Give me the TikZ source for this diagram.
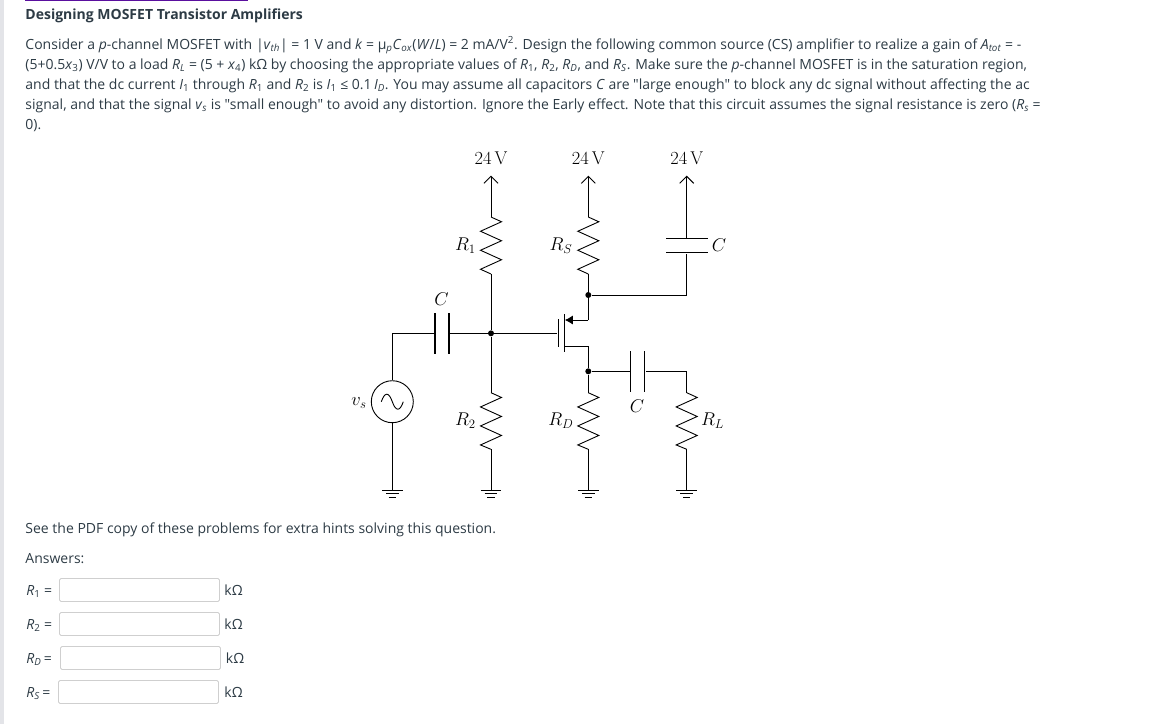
\documentclass[tikz,border=0pt]{standalone}
\usepackage{fontspec}
\usetikzlibrary{arrows.meta}
\newfontfamily\opensans{Open Sans}
\newcommand{\Sub}[2]{\textit{#1}\textsubscript{\textit{#2}}}
\newcommand{\Num}[2]{\textit{#1}\textsubscript{#2}}
\newcommand{\Lbl}[1]{\scalebox{1.07}{#1}}
\definecolor{bodygray}{HTML}{2D3B45}
\definecolor{sidegray}{HTML}{E3E4E8}
\definecolor{topbar}{HTML}{5A0F9E}
\definecolor{boxgray}{HTML}{CFCFCF}
\tikzset{
  para/.style={font=\opensans\fontsize{14}{17}\selectfont, text=bodygray, anchor=base west, inner sep=0},
  answer/.style={draw=boxgray, rounded corners=1.5pt, line width=0.9pt, minimum width=160pt, minimum height=23pt, inner sep=0},
  lbl/.style={font=\fontsize{17.28}{20}\selectfont, inner sep=0},
  dot/.style={circle, fill, inner sep=0, minimum size=6pt},
  plate/.style 2 args={fill, inner sep=0, minimum width=#1, minimum height=#2},
  res/.style={to path={-- ++(10.5,4.75) -- ++(-21,9.5) -- ++(21,9.5) -- ++(-21,9.5) -- ++(21,9.5) -- ++(-21,9.5) -- (\tikztotarget)}},
  gnd/.pic={
    \draw (-10.3,0) -- (10.3,0);
    \draw (-6.3,3.8) -- (6.3,3.8);
    \draw (-3.6,7.6) -- (3.6,7.6);
  }
}

\begin{document}
\begin{tikzpicture}[x=1pt,y=-1pt,line width=0.9pt,>={Straight Barb[length=7pt,width=14pt]}]
  \useasboundingbox (0,0) rectangle (1164,724);
  \fill[sidegray] (0,0) rectangle (4,724);
  \fill[topbar] (25,0) rectangle (247.6,1.2);

  % text
  \node[para, font=\opensans\bfseries\fontsize{14}{17}\selectfont] (title) at (25,19) {Designing MOSFET Transistor Amplifiers};
  \node[para] (L1) at (25,49)  {Consider a \textit{p}-channel MOSFET with \textit{|v}\textsubscript{\textit{th}}| = 1 V and \textit{k} = µ\textsubscript{\textit{p}}\Sub{C}{ox}(\textit{W}/\textit{L}) = 2 mA/V\textsuperscript{2}. Design the following common source (CS) amplifier to realize a gain of \Sub{A}{tot} = -};
  \node[para] (L2) at (25,69)  {(5+0.5\Num{x}{3}) V/V to a load \Sub{R}{L} = (5 + \Num{x}{4}) kΩ by choosing the appropriate values of \Num{R}{1}, \Num{R}{2}, \Sub{R}{D}, and \Sub{R}{S}. Make sure the \textit{p}-channel MOSFET is in the saturation region,};
  \node[para] (L3) at (25,89)  {and that the dc current \Num{I}{1} through \Num{R}{1} and \Num{R}{2} is \Num{I}{1} ≤ 0.1\,\Sub{I}{D}. You may assume all capacitors \textit{C} are "large enough" to block any dc signal without affecting the ac};
  \node[para] (L4) at (25,109) {signal, and that the signal \Sub{v}{s} is "small enough" to avoid any distortion. Ignore the Early effect. Note that this circuit assumes the signal resistance is zero (\Sub{R}{s} =};
  \node[para] (L5) at (25,129) {0).};
  \node[para] (hint) at (25,533) {See the PDF copy of these problems for extra hints solving this question.};
  \node[para] (ans) at (25,563) {Answers:};

  % answers
  \node[answer] (B1) at (139.5,590) {};
  \node[answer] (B2) at (139.5,624) {};
  \node[answer] (BD) at (140.5,658) {};
  \node[answer] (BS) at (138.5,692) {};
  \node[para] (N1) at (26,595) {\Num{R}{1} =};
  \node[para] (N2) at (26,629) {\Num{R}{2} =};
  \node[para] (ND) at (26,663) {\Sub{R}{D}\,=};
  \node[para] (NS) at (26,697) {\Sub{R}{S}\,=};
  \node[para] (U1) at (224,595) {kΩ};
  \node[para] (U2) at (224,629) {kΩ};
  \node[para] (UD) at (225.5,663) {kΩ};
  \node[para] (US) at (224,697) {kΩ};

  % supplies
  \node[lbl] (V1) at (491,158)   {\Lbl{24\,V}};
  \node[lbl] (V2) at (588.3,158) {\Lbl{24\,V}};
  \node[lbl] (V3) at (686.7,158) {\Lbl{24\,V}};
  \coordinate (T1) at (491,175.7);
  \coordinate (T2) at (588.3,175.7);
  \coordinate (T3) at (686.7,175.7);

  % resistor ends
  \coordinate (R1a) at (491,217);
  \coordinate (R1b) at (491,274);
  \coordinate (RSa) at (588.3,217);
  \coordinate (RSb) at (588.3,274);
  \coordinate (R2a) at (491,392.7);
  \coordinate (R2b) at (491,449.3);
  \coordinate (RDa) at (588.3,392.7);
  \coordinate (RDb) at (588.3,449.3);
  \coordinate (RLa) at (686.7,392.7);
  \coordinate (RLb) at (686.7,449.3);
  \node[lbl] (R1) at (465.5,246) {\Lbl{$R_1$}};
  \node[lbl] (RS) at (561,245.5) {\Lbl{$R_S$}};
  \node[lbl] (R2) at (465.5,421) {\Lbl{$R_2$}};
  \node[lbl] (RD) at (561,421) {\Lbl{$R_D$}};
  \node[lbl] (RL) at (712.5,421) {\Lbl{$R_L$}};

  % capacitors
  \node[plate={42pt}{1.4pt}] (C3a) at (686.7,238.7) {};
  \node[plate={42pt}{1.4pt}] (C3b) at (686.7,252.7) {};
  \node[lbl] (C3) at (719,245) {\Lbl{$C$}};
  \node[plate={1.4pt}{41pt}] (C1a) at (435,333.3) {};
  \node[plate={1.4pt}{41pt}] (C1b) at (449,333.3) {};
  \node[lbl] (C1) at (441.5,299) {\Lbl{$C$}};
  \node[plate={1.4pt}{41pt}] (C2a) at (630.7,371.3) {};
  \node[plate={1.4pt}{41pt}] (C2b) at (644.7,371.3) {};
  \node[lbl] (C2) at (637,406.5) {\Lbl{$C$}};

  % mosfet
  \node[plate={1.2pt}{28pt}] (gate) at (558.3,333.3) {};
  \node[plate={1.2pt}{38pt}] (chan) at (564.3,333.3) {};
  \coordinate (Sp) at (588.3,320);
  \coordinate (Dp) at (588.3,346.7);
  \coordinate (Ss) at (564.8,320);
  \coordinate (Ds) at (564.3,346.7);

  % source
  \node[draw, circle, inner sep=0, minimum size=42pt] (Vs) at (392.3,401.7) {};
  \draw[shift={(392.3,401.7)}] (-11,0) .. controls (-7.5,-10) and (-3.5,-10) .. (0,0) .. controls (3.5,10) and (7.5,10) .. (11,0);
  \node[lbl] (vs) at (359,403) {\Lbl{$v_s$}};
  \coordinate (Cw) at (392.3,333.3);

  % junctions
  \node[dot] (J1) at (491,333.3) {};
  \node[dot] (J2) at (588.3,295) {};
  \node[dot] (J3) at (588.3,371.3) {};
  \coordinate (Cc) at (686.7,295);
  \coordinate (Lc) at (686.7,371.3);

  % grounds
  \coordinate (G1) at (392.3,490);
  \coordinate (G2) at (491,490);
  \coordinate (G3) at (588.3,490);
  \coordinate (G4) at (686.7,490);
  \foreach \g in {G1,G2,G3,G4}
    \pic at (\g) {gnd};

  % wires
  \draw[->] (R1a) -- (T1);
  \draw[->] (RSa) -- (T2);
  \draw[->] (C3a) -- (T3);
  \draw (R1a) to[res] (R1b);
  \draw (RSa) to[res] (RSb);
  \draw (R2a) to[res] (R2b);
  \draw (RDa) to[res] (RDb);
  \draw (RLa) to[res] (RLb);
  \draw (R1b) -- (J1) -- (R2a);
  \draw (R2b) -- (G2);
  \draw (RSb) -- (J2) -- (Sp);
  \draw[-{Latex[length=8pt,width=9pt]}] (Sp) -- (Ss);
  \draw (J2) -- (Cc) -- (C3b);
  \draw (Ds) -- (Dp) -- (J3) -- (RDa);
  \draw (RDb) -- (G3);
  \draw (J3) -- (C2a);
  \draw (C2b) -- (Lc) -- (RLa);
  \draw (RLb) -- (G4);
  \draw (J1) -- (gate);
  \draw (J1) -- (C1b);
  \draw (C1a) -- (Cw) -- (Vs);
  \draw (Vs) -- (G1);
\end{tikzpicture}
\end{document}
